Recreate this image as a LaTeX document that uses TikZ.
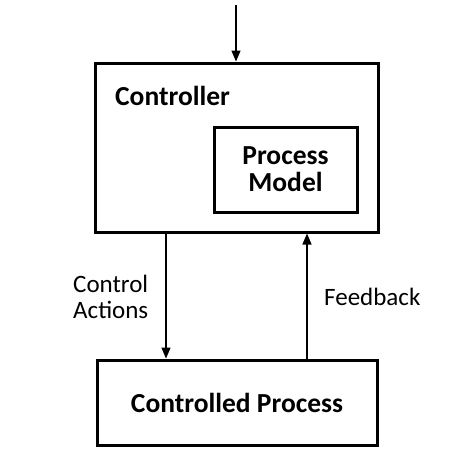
\documentclass[tikz,border=0pt]{standalone}
\usepackage{fontspec}
\setmainfont{Carlito}
\usetikzlibrary{arrows.meta}
\begin{document}
\begin{tikzpicture}[x=1pt,y=-1pt,
  box/.style={draw,line width=3pt},
  conn/.style={line width=1.4pt,-{Triangle[length=11pt,width=9pt]}},
  bold/.style={font=\fontsize{27.5}{30}\selectfont\bfseries},
  lbl/.style={font=\fontsize{25}{26}\selectfont,align=left,inner sep=0pt}]
\useasboundingbox[fill=white] (0,0) rectangle (474,474);
\node[box,minimum width=283pt,minimum height=169pt,inner sep=0pt] (ctrl) at (236.5,147.5) {};
\node[bold,anchor=west,inner sep=0pt] (ctrltxt) at (115,96) {Controller};
\node[box,minimum width=143pt,minimum height=85pt,align=center,bold,inner sep=0pt] (pm) at (285.5,169.5) {Process\\[-3pt]Model};
\node[box,minimum width=280pt,minimum height=85pt,bold,inner sep=0pt] (cp) at (237,402.5) {Controlled Process};
\coordinate (in) at (236,5);
\draw[conn] (in) -- (in |- ctrl.north);
\draw[conn] (166,0 |- ctrl.south) -- (166,0 |- cp.north);
\draw[conn] (307,0 |- cp.north) -- (307,0 |- ctrl.south);
\node[lbl,anchor=west] (ca) at (73,297) {Control\\Actions};
\node[lbl,anchor=west] (fb) at (324,297) {Feedback};
\end{tikzpicture}
\end{document}
